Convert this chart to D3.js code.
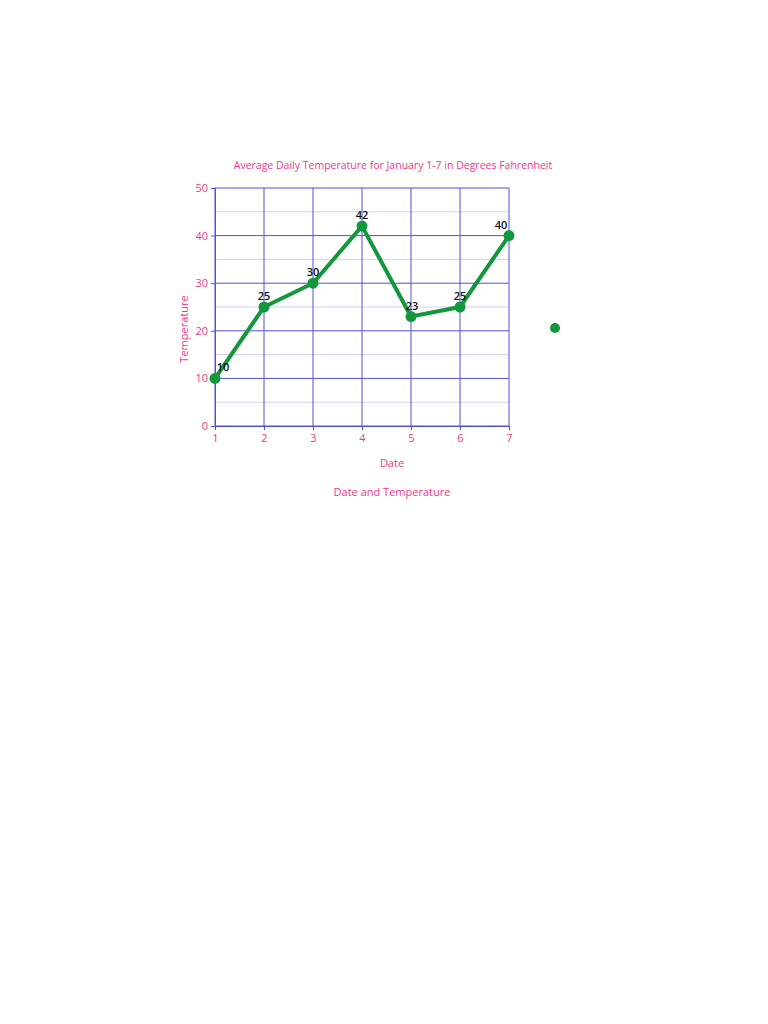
<!DOCTYPE html>
<html>
<head>
<meta charset="utf-8">
<script src="https://cdn.jsdelivr.net/npm/d3@7"></script>
<style>
  html, body { margin: 0; padding: 0; background: #fff; }
  svg { display: block; overflow: visible; }
</style>
</head>
<body>
<div id="chart-div"></div>
<script>
const dates = [1, 2, 3, 4, 5, 6, 7];
const temps = [10, 25, 30, 42, 23, 25, 40];
const yTicks = [0, 10, 20, 30, 40, 50];
const yMinor = [5, 15, 25, 35, 45];

const width = 768;
const height = 1024;
const pink = '#ee3a8c';
const green = '#14973c';
const blue = '#5050dc';
const font = 'Open Sans';

const svg = d3.select('#chart-div').append('svg')
  .attr('viewBox', [0, 0, width, height])
  .attr('width', width)
  .attr('height', height)
  .attr('font-family', font);

const margin = { top: 188, left: 215 };
const innerWidth = 294;
const innerHeight = 238;

const xScale = d3.scaleLinear().domain([1, 7]).range([0, innerWidth]);
const yScale = d3.scaleLinear().domain([0, 50]).range([innerHeight, 0]);

const g = svg.append('g')
  .attr('transform', `translate(${margin.left},${margin.top})`);

// minor grid
g.selectAll('.minor').data(yMinor).enter().append('line')
  .attr('x1', 0).attr('x2', innerWidth)
  .attr('y1', d => yScale(d)).attr('y2', d => yScale(d))
  .attr('stroke', '#d2d2f5').attr('stroke-width', 1);

// major grid
g.selectAll('.hmajor').data(yTicks).enter().append('line')
  .attr('x1', 0).attr('x2', innerWidth)
  .attr('y1', d => yScale(d)).attr('y2', d => yScale(d))
  .attr('stroke', blue).attr('stroke-width', 1);

g.selectAll('.vmajor').data(dates).enter().append('line')
  .attr('x1', d => xScale(d)).attr('x2', d => xScale(d))
  .attr('y1', 0).attr('y2', innerHeight)
  .attr('stroke', blue).attr('stroke-width', 1);

const yAxis = d3.axisLeft(yScale).tickValues(yTicks).tickFormat(d3.format('d')).tickSize(4).tickPadding(3);
const xAxis = d3.axisBottom(xScale).tickValues(dates).tickFormat(d3.format('d')).tickSize(4).tickPadding(4);

const yAxisG = g.append('g').call(yAxis)
  .attr('font-family', font).attr('font-size', 11);
yAxisG.select('.domain').attr('stroke', blue);
yAxisG.selectAll('.tick line').attr('stroke', blue);
yAxisG.selectAll('.tick text').attr('fill', pink);

const xAxisG = g.append('g').call(xAxis)
  .attr('transform', `translate(0,${innerHeight})`)
  .attr('font-family', font).attr('font-size', 11);
xAxisG.select('.domain').attr('stroke', blue);
xAxisG.selectAll('.tick line').attr('stroke', blue);
xAxisG.selectAll('.tick text').attr('fill', pink);

const line = d3.line()
  .x((d, i) => xScale(dates[i]))
  .y(d => yScale(d));

g.append('path')
  .datum(temps)
  .attr('d', line)
  .attr('fill', 'none')
  .attr('stroke', green)
  .attr('stroke-width', 4)
  .attr('stroke-linejoin', 'round');

g.selectAll('circle.pt').data(temps).enter().append('circle')
  .attr('class', 'pt')
  .attr('cx', (d, i) => xScale(dates[i]))
  .attr('cy', d => yScale(d))
  .attr('r', 5.5)
  .attr('fill', green);

const labelShift = [8, 0, 0, 0, 1, 0, -8];
g.selectAll('text.val').data(temps).enter().append('text')
  .attr('class', 'val')
  .attr('x', (d, i) => xScale(dates[i]) + labelShift[i])
  .attr('y', d => yScale(d) - 7)
  .attr('text-anchor', 'middle')
  .attr('fill', '#111')
  .attr('font-size', 11)
  .attr('font-weight', 600)
  .text(d => d);

// title and axis labels
svg.append('text')
  .attr('x', 393).attr('y', 169)
  .attr('text-anchor', 'middle')
  .attr('fill', pink)
  .attr('font-size', 10.5)
  .text('Average Daily Temperature for January 1-7 in Degrees Fahrenheit');

svg.append('text')
  .attr('x', 392).attr('y', 467)
  .attr('text-anchor', 'middle')
  .attr('fill', pink)
  .attr('font-size', 11)
  .text('Date');

svg.append('text')
  .attr('transform', `translate(188,${margin.top + innerHeight / 2 + 22}) rotate(-90)`)
  .attr('text-anchor', 'middle')
  .attr('fill', pink)
  .attr('font-size', 11)
  .text('Temperature');

svg.append('text')
  .attr('x', 392).attr('y', 496)
  .attr('text-anchor', 'middle')
  .attr('fill', pink)
  .attr('font-size', 11)
  .text('Date and Temperature');

// legend marker
svg.append('circle')
  .attr('cx', 555).attr('cy', 328)
  .attr('r', 5)
  .attr('fill', green);
</script>
</body>
</html>
